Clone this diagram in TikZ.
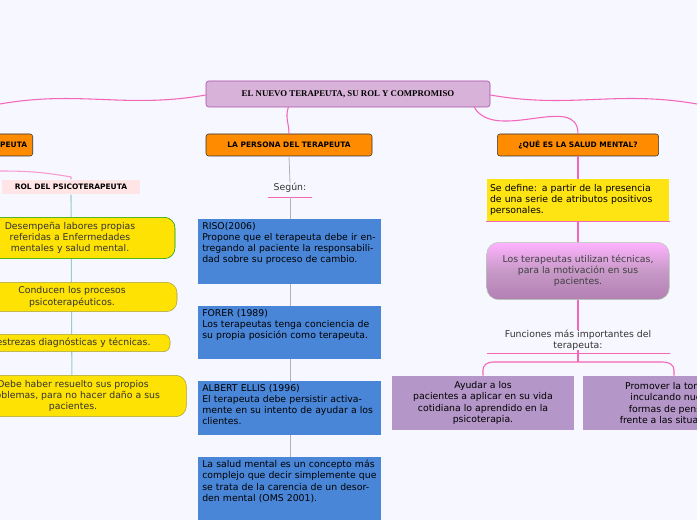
\documentclass[tikz,border=0pt]{standalone}
\usepackage{fontspec}
\setmainfont{DejaVu Sans}
\newfontfamily\titlefont{Liberation Serif}
\definecolor{cblue}{RGB}{74,134,216}
\definecolor{cpurp}{RGB}{180,150,200}
\definecolor{cyel}{RGB}{255,228,20}
\begin{document}
\begin{tikzpicture}[x=0.75pt,y=-0.75pt,
  every node/.style={font=\fontsize{7}{8.4}\selectfont, inner sep=0pt},
  hdr/.style={draw=black!80,fill=orange!90!yellow,rounded corners=2pt,font=\fontsize{5.6}{7}\bfseries\selectfont},
  bluebox/.style={text=black,align=left,anchor=north west,text width=132pt},
  ybox/.style={draw=yellow!60!black,fill=yellow!85!orange,rounded corners=8pt,align=center,text=black!80},
  pink/.style={draw=magenta!60,line width=0.8pt},
  grey/.style={draw=black!30,line width=0.6pt},
  teal/.style={draw=teal!40,line width=0.8pt}]
\useasboundingbox (0,0) rectangle (697,520);
\fill[blue!3] (0,0) rectangle (697,520);
% title
\node[draw=violet!70,fill=violet!30,rounded corners=2pt,minimum width=213pt,minimum height=19.5pt,font=\titlefont\fontsize{6.6}{8}\bfseries\selectfont] (t) at (348,94) {EL NUEVO TERAPEUTA, SU ROL Y COMPROMISO};
\coordinate (le) at (0,104);
\coordinate (re) at (697,104);
\draw[pink] ([yshift=-0.75pt]t.west) to[out=190,in=10] (le);
\draw[pink] ([yshift=-0.75pt]t.east) to[out=-10,in=170] (re);
% headers
\node[hdr,minimum width=124.5pt,minimum height=16.5pt] (h2) at (289,145) {LA PERSONA DEL TERAPEUTA};
\node[hdr,minimum width=121pt,minimum height=16.5pt] (h3) at (578,145) {¿QUÉ ES LA SALUD MENTAL?};
\node[hdr,minimum width=45pt,minimum height=16.5pt,anchor=east] (h1) at (33,145) {TERAPEUTA};
\draw[pink] ([xshift=62pt]t.south west) to[out=250,in=90] (h2.north);
\draw[pink] ([xshift=-12pt]t.south east) to[out=300,in=90] (h3.north);
% left column
\node[fill=pink!40,minimum width=103pt,minimum height=11pt,font=\fontsize{5.6}{7}\bfseries\selectfont] (rol) at (71,187) {ROL DEL PSICOTERAPEUTA};
\coordinate (lt) at (0,171);
\draw[draw=magenta!40,line width=0.8pt] (lt) to[out=0,in=170] (71,177) -- (rol.north);
\coordinate (lb) at (72,400);
\draw[teal] (rol.south) -- (lb);
\node[ybox,draw=green!60!black,minimum width=157.5pt,minimum height=31pt] (l1) at (70,238) {Desempeña labores propias\\referidas a Enfermedades\\mentales y salud mental.};
\node[ybox,minimum width=157.5pt,minimum height=22pt] (l2) at (72,297) {Conducen los procesos\\psicoterapéuticos.};
\node[ybox,rounded corners=5pt,minimum width=150pt,minimum height=13pt] (l3) at (70,343) {Destrezas diagnósticas y técnicas.};
\node[ybox,minimum width=170pt,minimum height=31pt] (l4) at (73,396) {Debe haber resuelto sus propios\\problemas, para no hacer daño a sus\\pacientes.};
% center column
\node[text=black!80] (seg) at (290,188) {Según:};
\draw[pink,line width=0.5pt] (268,197) -- (312,197);
\coordinate (cb) at (290,520);
\draw[grey] (h2.south) -- (seg.north);
\draw[grey] (290,197) -- (cb);
\fill[cblue] (198,219) rectangle (381,284);
\node[bluebox] (c1) at (202,222) {RISO(2006)\\Propone que el terapeuta debe ir entregando al paciente la responsabilidad sobre su proceso de cambio.};
\fill[cblue] (198,306) rectangle (381,359);
\node[bluebox] (c2) at (202,309) {FORER (1989)\\Los terapeutas tenga conciencia de su propia posición como terapeuta.};
\fill[cblue] (198,381) rectangle (381,435);
\node[bluebox] (c3) at (202,384) {ALBERT ELLIS (1996)\\El terapeuta debe persistir activamente en su intento de ayudar a los clientes.};
\fill[cblue] (198,457) rectangle (381,522);
\node[bluebox] (c4) at (202,460) {La salud mental es un concepto más complejo que decir simplemente que se trata de la carencia de un desorden mental (OMS 2001).};
% right column
\coordinate (rm) at (578,353);
\draw[pink] (h3.south) -- (rm);
\node[fill=cyel,minimum width=137pt,minimum height=31.5pt,text width=132pt,align=left] (r1) at (578,200) {Se define: a partir de la presencia de una serie de atributos positivos personales.};
\draw[pink,line width=0.5pt] (r1.south west) -- (r1.south east);
\node[draw=green!40!black!30,top color=magenta!30,bottom color=magenta!40!black!50,middle color=magenta!45!black!40,rounded corners=9pt,minimum width=137pt,minimum height=43pt,align=center,text=black!75] (r2) at (578,271) {Los terapeutas utilizan técnicas,\\para la motivación en sus\\pacientes.};
\node[align=center,text=black!80,fill=blue!3] (r3) at (578,340) {Funciones más importantes del\\terapeuta:};
\draw[pink,line width=0.5pt] (487,353) -- (670,353);
\node[fill=cpurp,minimum width=136.5pt,minimum height=40.5pt,align=center] (p1) at (483,403) {Ayudar a los\\pacientes a aplicar en su vida\\cotidiana lo aprendido en la\\psicoterapia.};
\node[fill=cpurp,minimum width=136.5pt,minimum height=40.5pt,align=center] (p2) at (674,403) {Promover la toma de\\inculcando nuevas\\formas de pensar y\\frente a las situaciones};
\draw[pink] (rm) -- (578,362);
\draw[pink] (p1.north) -- ++(0,-6) to[out=90,in=180] (493,362) -- (663,362) to[out=0,in=90] ([yshift=4.5pt]p2.north) -- (p2.north);
\end{tikzpicture}
\end{document}
